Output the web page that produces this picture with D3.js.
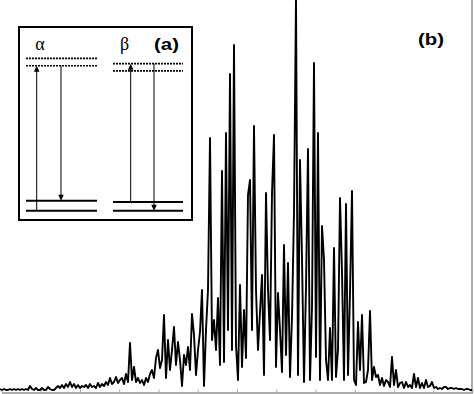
<!DOCTYPE html>
<html>
<head>
<meta charset="utf-8">
<script src="https://cdn.jsdelivr.net/npm/d3@7"></script>
<style>
  html, body { margin: 0; padding: 0; background: #fff; }
  svg { display: block; }
</style>
</head>
<body>
<svg id="chart" width="474" height="394"></svg>
<script>
// Spectrum intensity (a.u.), equally spaced samples across the axis
const intensity = [
  1,0,1,0,0,1,0,1,0,1,0,1,0,1,0,4,1,0,2,0,
  0,2,0,0,3,1,0,0,2,4,2,5,2,6,3,8,3,6,2,5,
  2,4,3,5,2,6,3,4,2,7,3,6,4,8,5,12,6,8,13,7,
  10,12,6,16,8,47,10,23,8,12,7,10,5,12,8,16,20,12,32,40,
  22,30,75,12,50,20,40,63,25,48,30,4,35,25,43,20,76,55,15,40,
  58,100,4,60,100,252,50,70,40,92,25,219,28,257,60,316,40,345,45,10,
  105,23,80,32,195,210,60,264,100,40,78,115,15,197,100,50,197,255,23,97,
  60,18,145,35,127,13,73,178,392,15,230,132,8,103,241,10,83,327,33,257,
  10,164,130,30,10,62,10,142,13,40,192,118,10,186,15,97,199,10,5,68,
  20,75,7,8,20,79,10,23,13,15,5,12,4,10,8,3,33,5,20,3,
  7,8,2,8,3,5,2,16,3,12,2,7,2,10,3,4,8,2,3,1,
  2,1,3,3,1,2,2,1,2,1,1,1,0,1,1,0,0
];
// Axis tick positions (a.u.)
const tickValues = [0,1,2,3,4,5,6,7,8,9,10,11,12];

// Inset (a): energy levels (normalised energy) for the two schemes
const schemes = ["α", "β"];
const solidLevels = [[0, 0.066], [0, 0.057]];
const dashedLevels = [[0.951, 1.0], [0.917, 0.965]];
// transitions: [fromEnergy, toEnergy] for excitation (up) and emission (down)
const upArrows = [[0, 0.951], [0.057, 0.965]];
const downArrows = [[0.951, 0.066], [0.965, 0]];

const svg = d3.select("#chart");

// Scales
const xSample = d3.scaleLinear().domain([0, intensity.length - 1]).range([0, 472]);
const y = d3.scaleLinear().domain([0, 390]).range([390, 0]);
const xAxisScale = d3.scaleLinear().domain([0, 12]).range([1.4, 472.6]);

// Axis frame (grey)
svg.append("line")
  .attr("x1", 472).attr("x2", 472).attr("y1", 0).attr("y2", 393.5)
  .attr("stroke", "#ababab").attr("stroke-width", 2);

const axis = d3.axisBottom(xAxisScale)
  .tickValues(tickValues)
  .tickSizeInner(-3)
  .tickSizeOuter(0)
  .tickFormat("");
const gAxis = svg.append("g").attr("transform", "translate(0,392.5)").call(axis);
gAxis.select(".domain").attr("stroke", "#ababab").attr("stroke-width", 2);
gAxis.selectAll(".tick line").attr("stroke", "#ababab").attr("stroke-width", 1);

// Spectrum line
const line = d3.line()
  .x((d, i) => xSample(i))
  .y(d => y(d));
svg.append("path")
  .datum(intensity)
  .attr("d", line)
  .attr("fill", "none")
  .attr("stroke", "#000")
  .attr("stroke-width", 1.9)
  .attr("stroke-linejoin", "round");

// Inset (a)
const inset = svg.append("g");
inset.append("rect")
  .attr("x", 19).attr("y", 27).attr("width", 173).attr("height", 193)
  .attr("fill", "#fff").attr("stroke", "#000").attr("stroke-width", 2);

const e = d3.scaleLinear().domain([0, 1]).range([210.7, 58.3]);
const colX = [[26, 97], [113, 183]];
const upX = [36.7, 130.7];
const downX = [61, 154];
const labelX = [40, 124.5];

function arrow(g, x, from, to) {
  const y1 = e(from), y2 = e(to);
  const dir = y2 < y1 ? -1 : 1;
  g.append("line")
    .attr("x1", x).attr("x2", x).attr("y1", y1).attr("y2", y2 - dir * 4)
    .attr("stroke", "#000").attr("stroke-width", 1);
  g.append("path")
    .attr("d", `M${x},${y2} L${x - 2.8},${y2 - dir * 6} L${x + 2.8},${y2 - dir * 6} Z`)
    .attr("fill", "#000");
}

schemes.forEach((s, k) => {
  const [xa, xb] = colX[k];
  solidLevels[k].forEach(v => {
    inset.append("line")
      .attr("x1", xa).attr("x2", xb).attr("y1", e(v)).attr("y2", e(v))
      .attr("stroke", "#000").attr("stroke-width", 2);
  });
  dashedLevels[k].forEach(v => {
    inset.append("line")
      .attr("x1", xa).attr("x2", xb).attr("y1", e(v)).attr("y2", e(v))
      .attr("stroke", "#000").attr("stroke-width", 1.7)
      .attr("stroke-dasharray", "2,1");
  });
  arrow(inset, upX[k], upArrows[k][0], upArrows[k][1]);
  arrow(inset, downX[k], downArrows[k][0], downArrows[k][1]);
  inset.append("text")
    .attr("x", labelX[k]).attr("y", 50)
    .attr("text-anchor", "middle")
    .attr("font-family", "'Liberation Serif', 'DejaVu Serif', serif")
    .attr("font-size", 18)
    .attr("fill", "#000")
    .text(s);
});

function panelLabel(txt, cx, by) {
  svg.append("text")
    .attr("transform", `translate(${cx},${by}) scale(1.2,1)`)
    .attr("text-anchor", "middle")
    .attr("font-family", "'Liberation Sans', Arial, sans-serif")
    .attr("font-weight", "bold")
    .attr("font-size", 17)
    .attr("fill", "#000")
    .text(txt);
}
panelLabel("(a)", 166.5, 50);
panelLabel("(b)", 431, 45);
</script>
</body>
</html>
